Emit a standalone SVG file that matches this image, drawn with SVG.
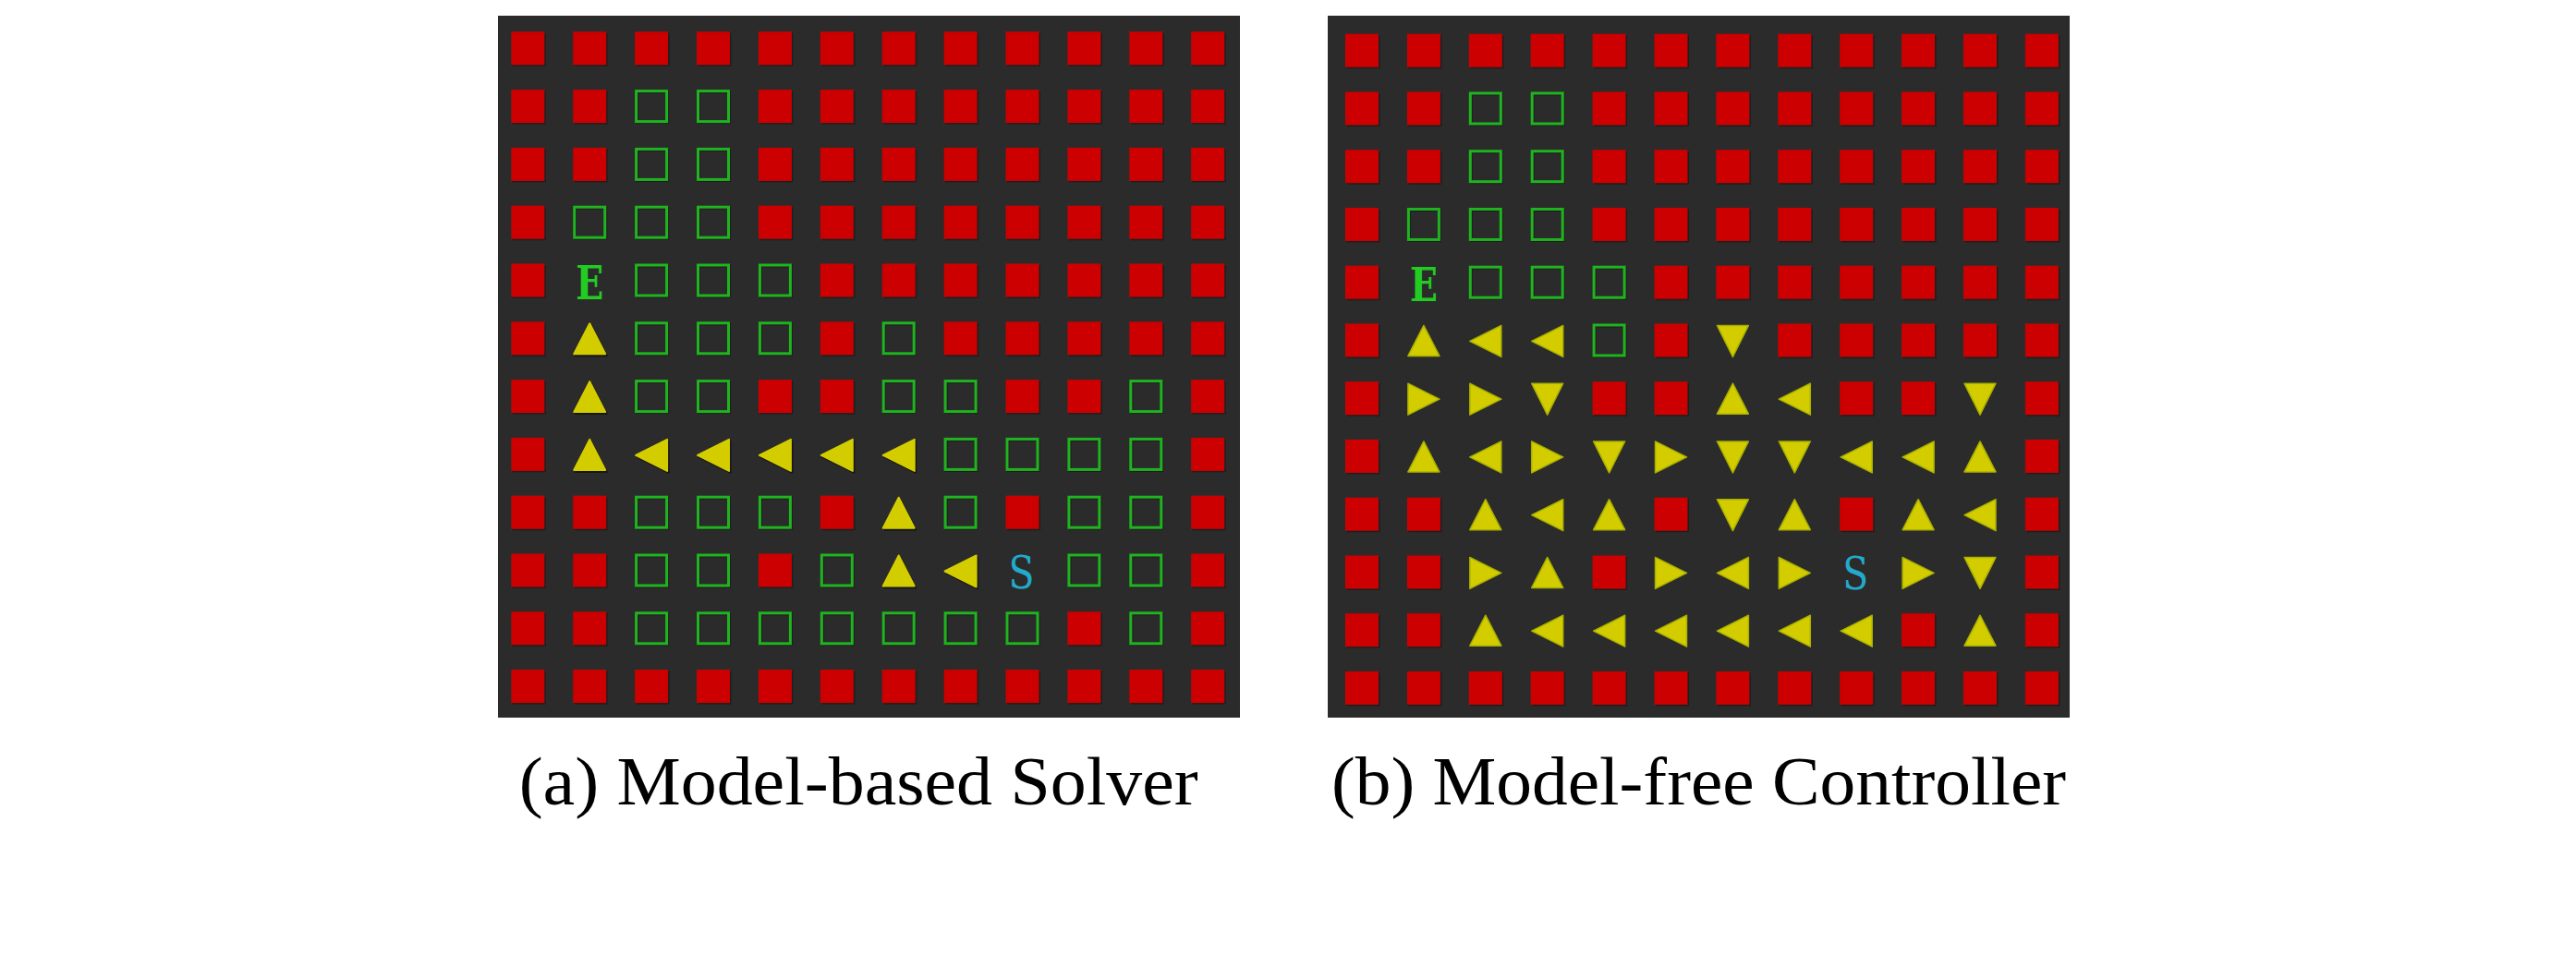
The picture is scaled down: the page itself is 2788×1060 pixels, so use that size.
<svg xmlns="http://www.w3.org/2000/svg" xmlns:xlink="http://www.w3.org/1999/xlink" width="2788" height="1060" viewBox="0 0 2788 1060">
<style>
.bg{fill:#2b2b2b}
.tri{fill:#d3cd00;stroke:#d3cd00;stroke-width:2;stroke-linejoin:round}
.trib{fill:#d3cd00;stroke:#a8b000;stroke-width:1.5;stroke-linejoin:round}
.sh{fill:#111;stroke:#111;stroke-width:2;stroke-linejoin:round;opacity:0.75}
.cap{font-family:"Liberation Serif","Times New Roman",serif;font-size:74px;fill:#000}
.e{font-family:"DejaVu Serif","Liberation Serif",serif;font-weight:bold;font-size:50px;fill:#22cc22}
.s{font-family:"DejaVu Serif","Liberation Serif",serif;font-size:48px;fill:#22aacc}
</style>
<defs>
<g id="R"><rect x="1.5" y="1.5" width="36" height="36" fill="#161616" opacity="0.6"/><rect width="36" height="36" fill="#cc0000"/></g>
<g id="G"><rect x="2.5" y="2.5" width="33" height="33" fill="none" stroke="#161616" stroke-width="3" opacity="0.6"/><rect x="1.5" y="1.5" width="33" height="33" fill="none" stroke="#1fb41f" stroke-width="3"/></g>
<path id="pU" d="M18,2 L35,35 L1,35 Z"/>
<path id="pD" d="M1,2 L35,2 L18,36 Z"/>
<path id="pL" d="M1,19 L35,2 L35,36 Z"/>
<path id="pT" d="M1,2 L35,19 L1,36 Z"/>
<g id="U"><use href="#pU" class="sh" x="1.5" y="2"/><use href="#pU" class="tri"/></g>
<g id="D"><use href="#pD" class="sh" x="1.5" y="2"/><use href="#pD" class="tri"/></g>
<g id="L"><use href="#pL" class="sh" x="1.5" y="2"/><use href="#pL" class="tri"/></g>
<g id="T"><use href="#pT" class="sh" x="1.5" y="2"/><use href="#pT" class="tri"/></g>
<g id="u"><use href="#pU" class="trib"/></g>
<g id="d"><use href="#pD" class="trib"/></g>
<g id="l"><use href="#pL" class="trib"/></g>
<g id="t"><use href="#pT" class="trib"/></g>
</defs>
<rect width="2788" height="1060" fill="#ffffff"/>

<g id="panel-a">
<rect class="bg" x="539" y="17" width="803" height="760"/>
<g transform="translate(553.3,34.3)">
<g id="a-r0"><use href="#R" x="0"/><use href="#R" x="66.9"/><use href="#R" x="133.8"/><use href="#R" x="200.7"/><use href="#R" x="267.6"/><use href="#R" x="334.5"/><use href="#R" x="401.4"/><use href="#R" x="468.3"/><use href="#R" x="535.2"/><use href="#R" x="602.1"/><use href="#R" x="669"/><use href="#R" x="735.9"/></g>
<g id="a-r1" transform="translate(0,62.8)"><use href="#R" x="0"/><use href="#R" x="66.9"/><use href="#G" x="133.8"/><use href="#G" x="200.7"/><use href="#R" x="267.6"/><use href="#R" x="334.5"/><use href="#R" x="401.4"/><use href="#R" x="468.3"/><use href="#R" x="535.2"/><use href="#R" x="602.1"/><use href="#R" x="669"/><use href="#R" x="735.9"/></g>
<g id="a-r2" transform="translate(0,125.6)"><use href="#R" x="0"/><use href="#R" x="66.9"/><use href="#G" x="133.8"/><use href="#G" x="200.7"/><use href="#R" x="267.6"/><use href="#R" x="334.5"/><use href="#R" x="401.4"/><use href="#R" x="468.3"/><use href="#R" x="535.2"/><use href="#R" x="602.1"/><use href="#R" x="669"/><use href="#R" x="735.9"/></g>
<g id="a-r3" transform="translate(0,188.4)"><use href="#R" x="0"/><use href="#G" x="66.9"/><use href="#G" x="133.8"/><use href="#G" x="200.7"/><use href="#R" x="267.6"/><use href="#R" x="334.5"/><use href="#R" x="401.4"/><use href="#R" x="468.3"/><use href="#R" x="535.2"/><use href="#R" x="602.1"/><use href="#R" x="669"/><use href="#R" x="735.9"/></g>
<g id="a-r4" transform="translate(0,251.2)"><use href="#R" x="0"/><text class="e" x="69.9" y="38" textLength="30" lengthAdjust="spacingAndGlyphs">E</text><use href="#G" x="133.8"/><use href="#G" x="200.7"/><use href="#G" x="267.6"/><use href="#R" x="334.5"/><use href="#R" x="401.4"/><use href="#R" x="468.3"/><use href="#R" x="535.2"/><use href="#R" x="602.1"/><use href="#R" x="669"/><use href="#R" x="735.9"/></g>
<g id="a-r5" transform="translate(0,314)"><use href="#R" x="0"/><use href="#U" x="66.9"/><use href="#G" x="133.8"/><use href="#G" x="200.7"/><use href="#G" x="267.6"/><use href="#R" x="334.5"/><use href="#G" x="401.4"/><use href="#R" x="468.3"/><use href="#R" x="535.2"/><use href="#R" x="602.1"/><use href="#R" x="669"/><use href="#R" x="735.9"/></g>
<g id="a-r6" transform="translate(0,376.8)"><use href="#R" x="0"/><use href="#U" x="66.9"/><use href="#G" x="133.8"/><use href="#G" x="200.7"/><use href="#R" x="267.6"/><use href="#R" x="334.5"/><use href="#G" x="401.4"/><use href="#G" x="468.3"/><use href="#R" x="535.2"/><use href="#R" x="602.1"/><use href="#G" x="669"/><use href="#R" x="735.9"/></g>
<g id="a-r7" transform="translate(0,439.6)"><use href="#R" x="0"/><use href="#U" x="66.9"/><use href="#L" x="133.8"/><use href="#L" x="200.7"/><use href="#L" x="267.6"/><use href="#L" x="334.5"/><use href="#L" x="401.4"/><use href="#G" x="468.3"/><use href="#G" x="535.2"/><use href="#G" x="602.1"/><use href="#G" x="669"/><use href="#R" x="735.9"/></g>
<g id="a-r8" transform="translate(0,502.4)"><use href="#R" x="0"/><use href="#R" x="66.9"/><use href="#G" x="133.8"/><use href="#G" x="200.7"/><use href="#G" x="267.6"/><use href="#R" x="334.5"/><use href="#U" x="401.4"/><use href="#G" x="468.3"/><use href="#R" x="535.2"/><use href="#G" x="602.1"/><use href="#G" x="669"/><use href="#R" x="735.9"/></g>
<g id="a-r9" transform="translate(0,565.2)"><use href="#R" x="0"/><use href="#R" x="66.9"/><use href="#G" x="133.8"/><use href="#G" x="200.7"/><use href="#R" x="267.6"/><use href="#G" x="334.5"/><use href="#U" x="401.4"/><use href="#L" x="468.3"/><text class="s" x="538.2" y="37" textLength="28" lengthAdjust="spacingAndGlyphs">S</text><use href="#G" x="602.1"/><use href="#G" x="669"/><use href="#R" x="735.9"/></g>
<g id="a-r10" transform="translate(0,628)"><use href="#R" x="0"/><use href="#R" x="66.9"/><use href="#G" x="133.8"/><use href="#G" x="200.7"/><use href="#G" x="267.6"/><use href="#G" x="334.5"/><use href="#G" x="401.4"/><use href="#G" x="468.3"/><use href="#G" x="535.2"/><use href="#R" x="602.1"/><use href="#G" x="669"/><use href="#R" x="735.9"/></g>
<g id="a-r11" transform="translate(0,690.8)"><use href="#R" x="0"/><use href="#R" x="66.9"/><use href="#R" x="133.8"/><use href="#R" x="200.7"/><use href="#R" x="267.6"/><use href="#R" x="334.5"/><use href="#R" x="401.4"/><use href="#R" x="468.3"/><use href="#R" x="535.2"/><use href="#R" x="602.1"/><use href="#R" x="669"/><use href="#R" x="735.9"/></g>
</g>
</g>
<text id="caption-a" class="cap" x="561.7" y="871" textLength="735" lengthAdjust="spacingAndGlyphs">(a) Model-based Solver</text>

<g id="panel-b">
<rect class="bg" x="1437" y="17" width="803" height="760"/>
<g transform="translate(1456,36.7)">
<g id="b-r0"><use href="#R" x="0"/><use href="#R" x="66.9"/><use href="#R" x="133.8"/><use href="#R" x="200.7"/><use href="#R" x="267.6"/><use href="#R" x="334.5"/><use href="#R" x="401.4"/><use href="#R" x="468.3"/><use href="#R" x="535.2"/><use href="#R" x="602.1"/><use href="#R" x="669"/><use href="#R" x="735.9"/></g>
<g id="b-r1" transform="translate(0,62.75)"><use href="#R" x="0"/><use href="#R" x="66.9"/><use href="#G" x="133.8"/><use href="#G" x="200.7"/><use href="#R" x="267.6"/><use href="#R" x="334.5"/><use href="#R" x="401.4"/><use href="#R" x="468.3"/><use href="#R" x="535.2"/><use href="#R" x="602.1"/><use href="#R" x="669"/><use href="#R" x="735.9"/></g>
<g id="b-r2" transform="translate(0,125.5)"><use href="#R" x="0"/><use href="#R" x="66.9"/><use href="#G" x="133.8"/><use href="#G" x="200.7"/><use href="#R" x="267.6"/><use href="#R" x="334.5"/><use href="#R" x="401.4"/><use href="#R" x="468.3"/><use href="#R" x="535.2"/><use href="#R" x="602.1"/><use href="#R" x="669"/><use href="#R" x="735.9"/></g>
<g id="b-r3" transform="translate(0,188.25)"><use href="#R" x="0"/><use href="#G" x="66.9"/><use href="#G" x="133.8"/><use href="#G" x="200.7"/><use href="#R" x="267.6"/><use href="#R" x="334.5"/><use href="#R" x="401.4"/><use href="#R" x="468.3"/><use href="#R" x="535.2"/><use href="#R" x="602.1"/><use href="#R" x="669"/><use href="#R" x="735.9"/></g>
<g id="b-r4" transform="translate(0,251)"><use href="#R" x="0"/><text class="e" x="69.9" y="38" textLength="30" lengthAdjust="spacingAndGlyphs">E</text><use href="#G" x="133.8"/><use href="#G" x="200.7"/><use href="#G" x="267.6"/><use href="#R" x="334.5"/><use href="#R" x="401.4"/><use href="#R" x="468.3"/><use href="#R" x="535.2"/><use href="#R" x="602.1"/><use href="#R" x="669"/><use href="#R" x="735.9"/></g>
<g id="b-r5" transform="translate(0,313.75)"><use href="#R" x="0"/><use href="#u" x="66.9"/><use href="#l" x="133.8"/><use href="#l" x="200.7"/><use href="#G" x="267.6"/><use href="#R" x="334.5"/><use href="#d" x="401.4"/><use href="#R" x="468.3"/><use href="#R" x="535.2"/><use href="#R" x="602.1"/><use href="#R" x="669"/><use href="#R" x="735.9"/></g>
<g id="b-r6" transform="translate(0,376.5)"><use href="#R" x="0"/><use href="#t" x="66.9"/><use href="#t" x="133.8"/><use href="#d" x="200.7"/><use href="#R" x="267.6"/><use href="#R" x="334.5"/><use href="#u" x="401.4"/><use href="#l" x="468.3"/><use href="#R" x="535.2"/><use href="#R" x="602.1"/><use href="#d" x="669"/><use href="#R" x="735.9"/></g>
<g id="b-r7" transform="translate(0,439.25)"><use href="#R" x="0"/><use href="#u" x="66.9"/><use href="#l" x="133.8"/><use href="#t" x="200.7"/><use href="#d" x="267.6"/><use href="#t" x="334.5"/><use href="#d" x="401.4"/><use href="#d" x="468.3"/><use href="#l" x="535.2"/><use href="#l" x="602.1"/><use href="#u" x="669"/><use href="#R" x="735.9"/></g>
<g id="b-r8" transform="translate(0,502)"><use href="#R" x="0"/><use href="#R" x="66.9"/><use href="#u" x="133.8"/><use href="#l" x="200.7"/><use href="#u" x="267.6"/><use href="#R" x="334.5"/><use href="#d" x="401.4"/><use href="#u" x="468.3"/><use href="#R" x="535.2"/><use href="#u" x="602.1"/><use href="#l" x="669"/><use href="#R" x="735.9"/></g>
<g id="b-r9" transform="translate(0,564.75)"><use href="#R" x="0"/><use href="#R" x="66.9"/><use href="#t" x="133.8"/><use href="#u" x="200.7"/><use href="#R" x="267.6"/><use href="#t" x="334.5"/><use href="#l" x="401.4"/><use href="#t" x="468.3"/><text class="s" x="538.2" y="37" textLength="28" lengthAdjust="spacingAndGlyphs">S</text><use href="#t" x="602.1"/><use href="#d" x="669"/><use href="#R" x="735.9"/></g>
<g id="b-r10" transform="translate(0,627.5)"><use href="#R" x="0"/><use href="#R" x="66.9"/><use href="#u" x="133.8"/><use href="#l" x="200.7"/><use href="#l" x="267.6"/><use href="#l" x="334.5"/><use href="#l" x="401.4"/><use href="#l" x="468.3"/><use href="#l" x="535.2"/><use href="#R" x="602.1"/><use href="#u" x="669"/><use href="#R" x="735.9"/></g>
<g id="b-r11" transform="translate(0,690.25)"><use href="#R" x="0"/><use href="#R" x="66.9"/><use href="#R" x="133.8"/><use href="#R" x="200.7"/><use href="#R" x="267.6"/><use href="#R" x="334.5"/><use href="#R" x="401.4"/><use href="#R" x="468.3"/><use href="#R" x="535.2"/><use href="#R" x="602.1"/><use href="#R" x="669"/><use href="#R" x="735.9"/></g>
</g>
</g>
<text id="caption-b" class="cap" x="1441" y="871" textLength="795" lengthAdjust="spacingAndGlyphs">(b) Model-free Controller</text>
</svg>
